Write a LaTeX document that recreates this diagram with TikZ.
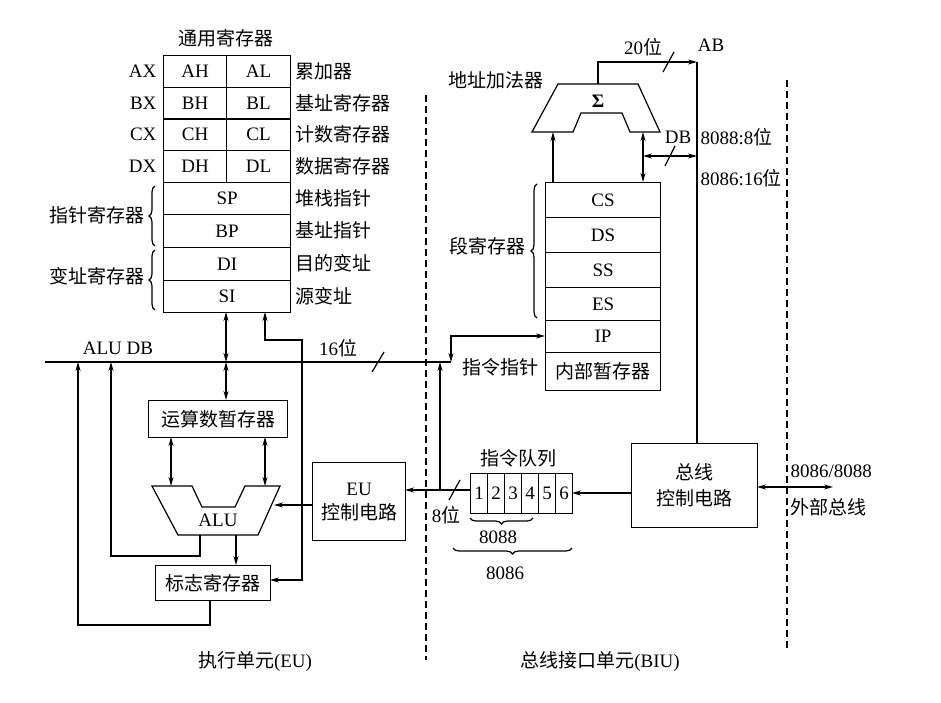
\documentclass[tikz,border=0pt]{standalone}
\usepackage{fontspec}
\setmainfont{Liberation Serif}
\newfontfamily\cjk{Noto Sans CJK SC}
\newcommand{\zh}[1]{{\cjk #1}}
\usetikzlibrary{arrows.meta,decorations.pathreplacing}
\begin{document}
\begin{tikzpicture}[x=1pt,y=-1pt,
  font=\fontsize{19}{21}\selectfont,
  every path/.style={line width=1.2pt},
  >={Stealth[length=9pt,width=5pt]},
  reg/.style={draw,line width=1.2pt,inner sep=0pt,anchor=north west},
  lbl/.style={inner sep=1pt},
  divider/.style={line width=1.3pt,dash pattern=on 7pt off 4pt},
  br/.style={decorate,decoration={brace,amplitude=6pt}}]
\useasboundingbox (0,0) rectangle (941,703);
% general registers
\node[lbl] (gt) at (226,38) {\zh{通用寄存器}};
\foreach \n/\y/\a/\b/\l/\r in {ax/55/AH/AL/AX/累加器,bx/87/BH/BL/BX/基址寄存器,cx/118/CH/CL/CX/计数寄存器,dx/150/DH/DL/DX/数据寄存器}{
  \node[reg,minimum width=63pt,minimum height=32pt] (\n h) at (163,\y) {\a};
  \node[reg,minimum width=64pt,minimum height=32pt] (\n l) at (226,\y) {\b};
  \node[lbl,anchor=east] (\n n) at (158,\y+16) {\l};
  \node[lbl,anchor=west] (\n c) at (294,\y+16) {\zh{\r}};
}
\foreach \n/\y/\a/\r/\h in {sp/182/SP/堆栈指针/32,bp/214/BP/基址指针/33,di/247/DI/目的变址/33,si/280/SI/源变址/32}{
  \node[reg,minimum width=127pt,minimum height=\h pt] (\n) at (163,\y) {\a};
  \node[lbl,anchor=west] (\n c) at (294,\y+\h/2) {\zh{\r}};
}
\draw[br] (155,246) -- (155,186);
\node[lbl,anchor=east] (pz) at (146,215) {\zh{指针寄存器}};
\draw[br] (155,310) -- (155,250);
\node[lbl,anchor=east] (bz) at (146,276) {\zh{变址寄存器}};
% bus
\coordinate (busL) at (45,362);
\coordinate (busR) at (451,362);
\draw (busL) -- (busR);
\node[lbl] (aludb) at (118,348) {ALU DB};
\node[lbl] (b16) at (338,348) {16\zh{位}};
\draw (372,372) -- (384,352);
% temp register
\node[reg,minimum width=139pt,minimum height=37pt] (tmp) at (148,400) {\zh{运算数暂存器}};
\draw[<->] (226,312) -- (226,362);
\draw[<->] (226,362) -- (226,400);
% ALU
\draw (152,486) -- (192,486) -- (202,507) -- (235,507) -- (245,486) -- (280,486) -- (258,535) -- (178,535) -- cycle;
\node[lbl] (alu) at (218,520) {ALU};
\draw[<->] (171,437) -- (171,486);
\draw[<->] (265,437) -- (265,486);
% flag register
\node[reg,minimum width=115pt,minimum height=35pt] (flag) at (155,565) {\zh{标志寄存器}};
\draw[->] (236,535) -- (236,565);
\draw[->] (200,535) -- (200,556) -- (111,556) -- (111,362);
\draw[->] (210,600) -- (210,625) -- (78,625) -- (78,362);
\draw[<->] (265,312) -- (265,340) -- (302,340) -- (302,580) -- (270,580);
% EU control
\node[reg,minimum width=93pt,minimum height=78pt,align=center] (euc) at (312,462) {EU\\[3pt]\zh{控制电路}};
\draw[->] (312,505) -- (274,505);
% dashed
\draw[divider] (426,95) -- (426,660);
\draw[divider] (787,80) -- (787,650);
% queue
\node[lbl] (ql) at (518,458) {\zh{指令队列}};
\foreach \i in {1,...,6}{
  \node[reg,minimum width=17pt,minimum height=40pt] (q\i) at (470+17*\i-17,473) {\i};
}
\draw[->] (470,490) -- (405,490);
\draw (449,500) -- (460,480);
\node[lbl] (b8) at (446,515) {8\zh{位}};
\draw[->] (440,490) -- (440,362);
\draw[br] (533,518) -- (470,518);
\node[lbl] (n8088) at (498,537) {8088};
\draw[br] (572,548) -- (453,548);
\node[lbl] (n8086) at (505,573) {8086};
% bus control
\node[reg,minimum width=126pt,minimum height=84pt,align=center] (bcu) at (631,443) {\zh{总线}\\[5pt]\zh{控制电路}};
\draw[->] (631,493) -- (572,493);
\draw[<->] (757,487) -- (833,487);
\node[lbl,anchor=west] (ext1) at (789,471) {8086/8088};
\node[lbl,anchor=west] (ext2) at (789,507) {\zh{外部总线}};
% segment registers
\foreach \n/\y/\t/\h in {cs/182/CS/35,ds/217/DS/35,ss/252/SS/35,es/287/ES/33,ip/320/IP/32,tr/352/\zh{内部暂存器}/38}{
  \node[reg,minimum width=115pt,minimum height=\h pt] (\n) at (545,\y) {\t};
}
\draw[br] (537,318) -- (537,184);
\node[lbl,anchor=east] (dz) at (527,246) {\zh{段寄存器}};
\draw[<->] (545,336) -- (451,336) -- (451,362);
\node[lbl] (ipl) at (500,367) {\zh{指令指针}};
% address adder
\draw (558,84) -- (638,84) -- (660,132) -- (630,132) -- (622,113) -- (581,113) -- (573,132) -- (532,132) -- cycle;
\node[lbl] (sig) at (598,101) {\textbf{Σ}};
\node[lbl] (adl) at (496,80) {\zh{地址加法器}};
\draw[->] (553,182) -- (553,132);
\draw[<->] (643,182) -- (643,132);
\draw[<->] (643,156) -- (697,156);
\draw (665,166) -- (675,146);
\node[lbl] (dbl) at (678,137) {DB};
\draw[->] (598,84) -- (598,62) -- (697,62);
\draw (663,72) -- (674,52);
\node[lbl] (b20) at (643,47) {20\zh{位}};
\node[lbl] (abl) at (711,45) {AB};
\draw (697,62) -- (697,443);
\node[lbl,anchor=west] (w8) at (699,137) {8088:8\zh{位}};
\node[lbl,anchor=west] (w16) at (699,178) {8086:16\zh{位}};
% bottom labels
\node[lbl] (eul) at (255,662) {\zh{执行单元}(EU)};
\node[lbl] (biul) at (600,662) {\zh{总线接口单元}(BIU)};
\end{tikzpicture}
\end{document}
